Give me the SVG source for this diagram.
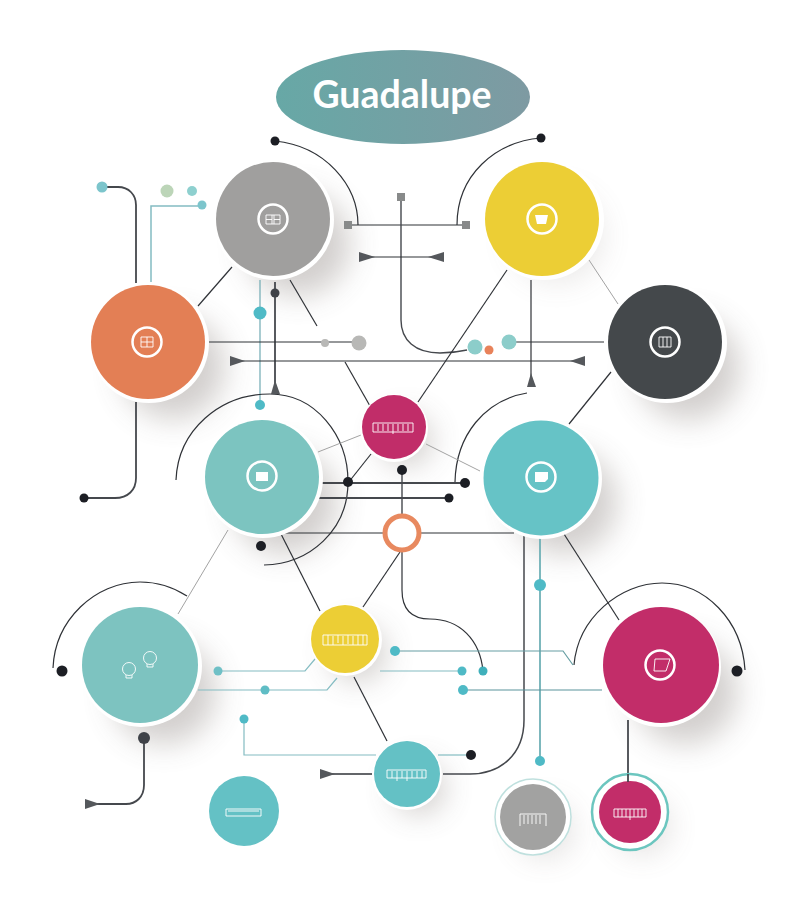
<svg xmlns="http://www.w3.org/2000/svg" width="800" height="900" viewBox="0 0 800 900">
<style>
.l{fill:none;stroke:#2f3237;stroke-width:1.2}
.m{fill:none;stroke:#45484d;stroke-width:1.8}
.f{fill:none;stroke:#a3a3a3;stroke-width:1}
.t{fill:none;stroke:#84bcc2;stroke-width:1.2}
.k{fill:#1c1e24}
.a{fill:#55585c}
.s{fill:#888a8a}
.c{fill:#4fbac6}
.n{fill:none;stroke:#fff;stroke-width:2.5}
.g{fill:none;stroke:#fff;stroke-width:1;opacity:.9}
.w{fill:#fff}
.sh{fill:#6b5f5a;opacity:.3;filter:url(#b)}
</style>
<defs>
<linearGradient id="tg" x1="0" x2="1" y1="0" y2="0"><stop offset="0" stop-color="#67a8a6"/><stop offset="1" stop-color="#7e9aa2"/></linearGradient>
<filter id="b" x="-60%" y="-60%" width="220%" height="220%"><feGaussianBlur stdDeviation="15"/></filter>
</defs>
<rect width="800" height="900" fill="#fff"/>

<g id="shadows">
<circle class="sh" cx="298" cy="244" r="52"/><circle class="sh" cx="173" cy="367" r="52"/><circle class="sh" cx="557" cy="236" r="46" style="opacity:.14"/><circle class="sh" cx="688" cy="368" r="52"/>
<circle class="sh" cx="285" cy="502" r="52"/><circle class="sh" cx="565" cy="502" r="52"/><circle class="sh" cx="406" cy="440" r="26"/>
<circle class="sh" cx="164" cy="692" r="52"/><circle class="sh" cx="358" cy="653" r="28"/><circle class="sh" cx="685" cy="692" r="52"/>
<circle class="sh" cx="419" cy="788" r="26"/><circle class="sh" cx="545" cy="830" r="28" style="opacity:.18"/><circle class="sh" cx="642" cy="826" r="28" style="opacity:.18"/>
</g>

<g id="connectors">
<path class="l" d="M275 141C325 146 358 185 358 225"/>
<path class="l" d="M541 138C495 142 457 175 457 225"/>
<path class="l" d="M348 225H466"/>
<path class="m" d="M401 197V320C401 340 415 353 440 353C450 353 458 352 467 350" style="stroke-width:1.4"/>
<path class="l" d="M365 257H437"/>
<path class="m" d="M102 187H118C129 187 136 195 136 205V283"/>
<path class="m" d="M136 402V478C136 490 128 498 115 498H84"/>
<path class="t" d="M151 282V206H201" style="stroke-width:1.5"/>
<path class="l" d="M232 267L198 306"/>
<path class="l" d="M290 280L317 326"/>
<path class="t" d="M260 280V405" style="stroke:#6fa9b2"/>
<path class="m" d="M275 282V385"/>
<path class="l" d="M209 342H352"/>
<path class="l" d="M240 361H575"/>
<path class="l" d="M345 362L370 406"/>
<path class="l" d="M507 270L418 402"/>
<path class="f" d="M589 260L618 304"/>
<path class="l" d="M531 280V380"/>
<path class="l" d="M516 342H604"/>
<path class="l" d="M611 372L569 424"/>
<path class="l" d="M527 393C485 400 456 435 455 482"/>
<path class="l" d="M176 480C178 430 220 394 270 394C315 394 348 435 348 482C348 530 310 564 264 565"/>
<path class="f" d="M318 452L361 435"/>
<path class="f" d="M426 444L480 471"/>
<path class="l" d="M371 454L348 483"/>
<path class="m" d="M322 483H465"/>
<path class="m" d="M319 498H449"/>
<path class="m" d="M402 470V517" style="stroke-width:1.4"/>
<path class="l" d="M285 533H386M418 533H514"/>
<path class="m" d="M524 536V720C524 755 500 774 470 774H443" style="stroke-width:1.5"/>
<path class="t" d="M540 536V761" style="stroke:#6fb0b6;stroke-width:1.8"/>
<path class="l" d="M281 534L320 611"/>
<path class="f" d="M228 530L178 614"/>
<path class="l" d="M400 552L363 607"/>
<path class="l" d="M402 550V590C402 610 412 619 430 619C460 619 480 640 483 671"/>
<path class="l" d="M564 534L619 620"/>
<path class="l" d="M53 668C55 620 95 582 140 582C158 582 173 587 187 596"/>
<path class="l" d="M574 665C578 618 620 583 662 583C705 583 742 620 745 670"/>
<path class="t" d="M218 671H305L315 659"/>
<path class="t" d="M198 690H327L337 678"/>
<path class="t" d="M380 671H462"/>
<path class="t" d="M395 651H563L573 665" style="stroke:#669ea3"/>
<path class="t" d="M463 690H602" style="stroke:#5b949b"/>
<path class="l" d="M354 677L387 741"/>
<path class="t" d="M244 719V755H376"/>
<path class="t" d="M438 755H470"/>
<path class="l" d="M327 774H372" style="stroke-width:1.6"/>
<path class="m" d="M144 738V785C144 797 136 804 126 804H95"/>
<path class="m" d="M628 720V782"/>
<circle class="k" cx="275" cy="141" r="4.500"/><circle class="k" cx="541" cy="138" r="4.500"/><circle class="k" cx="84" cy="498" r="4.500"/>
<rect class="s" x="344" y="221" width="8" height="8"/><rect class="s" x="462" y="221" width="8" height="8"/><rect class="s" x="397" y="193" width="8" height="8"/>
<path class="a" d="M359 252L375 257L359 262Z"/><path class="a" d="M444 252L428 257L444 262Z"/>
<path class="a" d="M230 356L245 361L230 366Z"/><path class="a" d="M585 356L570 361L585 366Z"/>
<path class="a" d="M271 394L275 380L280 394Z"/><path class="a" d="M527 387L531 373L536 387Z"/>
<path class="a" d="M85 799L100 804L85 809Z"/><path class="a" d="M320 769L335 774L320 779Z"/>
<circle fill="#7cc5cc" cx="102" cy="187" r="5.500"/><circle fill="#bcd5b8" cx="167" cy="191" r="6.500"/><circle fill="#8ed0cf" cx="192" cy="191" r="5"/><circle fill="#7cc5cc" cx="202" cy="205" r="4.500"/>
<circle class="c" cx="260" cy="313" r="6.500"/><circle class="c" cx="260" cy="405" r="5"/><circle fill="#3f4248" cx="275" cy="293" r="4.500"/>
<circle fill="#b8b8b6" cx="325" cy="343" r="4"/><circle fill="#b8b8b6" cx="359" cy="343" r="7.500"/>
<circle fill="#8ccdca" cx="475" cy="347" r="7.500"/><circle fill="#e8825a" cx="489" cy="350" r="4.500"/><circle fill="#8ccdca" cx="509" cy="342" r="7.500"/>
<circle class="k" cx="348" cy="482" r="5"/><circle class="k" cx="402" cy="470" r="5"/><circle class="k" cx="465" cy="483" r="5"/><circle class="k" cx="449" cy="498" r="4.500"/><circle class="k" cx="261" cy="546" r="5"/>
<circle class="c" cx="540" cy="585" r="6"/><circle class="c" cx="540" cy="761" r="5"/>
<circle class="k" cx="62" cy="671" r="5.500"/><circle class="k" cx="737" cy="671" r="5.500"/><circle fill="#3f4248" cx="144" cy="738" r="6"/>
<circle fill="#6fc0c6" cx="218" cy="671" r="4.500"/><circle fill="#5fbdc5" cx="265" cy="690" r="4.500"/><circle class="c" cx="244" cy="719" r="4.500"/>
<circle class="c" cx="395" cy="651" r="5"/><circle class="c" cx="462" cy="671" r="4.500"/><circle fill="#3fb0bb" cx="483" cy="671" r="4.500"/><circle class="c" cx="463" cy="690" r="5"/>
<circle class="k" cx="471" cy="755" r="5"/>
</g>

<g id="title"><ellipse cx="403" cy="97" rx="127" ry="47" fill="url(#tg)"/><text x="402" y="108" text-anchor="middle" font-family="Lato,'Open Sans',sans-serif" font-weight="700" font-size="37.500" fill="#fff">Guadalupe</text></g>

<g id="node-gray"><circle class="w" cx="274" cy="220" r="60"/><circle fill="#a09f9e" cx="273" cy="219" r="57"/><circle class="n" cx="273" cy="219" r="14.500"/><path class="g" d="M266 215H280V224H266ZM266 219.500H272M274 219.500H280M272 215V224M274 215V224"/></g>
<g id="node-orange"><circle class="w" cx="149" cy="343" r="60"/><circle fill="#e37f55" cx="148" cy="342" r="57"/><circle class="n" cx="147" cy="342" r="14.500"/><path class="g" d="M141 337H153V347H141ZM141 342H153M147 337V347"/></g>
<g id="node-yellow"><circle class="w" cx="544" cy="220" r="60"/><circle fill="#ecce35" cx="542" cy="219" r="57"/><circle class="n" cx="542" cy="219" r="14.500"/><path fill="#fff" d="M535 215H548L546 224H537Z"/></g>
<g id="node-dark"><circle class="w" cx="667" cy="343" r="60"/><circle fill="#44484b" cx="665" cy="342" r="57"/><circle class="n" cx="665" cy="342" r="14.500"/><path class="g" d="M659 337H671V347H659ZM663 337V347M667 337V347"/></g>
<g id="node-teal-left"><circle class="w" cx="263" cy="478" r="60"/><circle fill="#7cc4c0" cx="262" cy="477" r="57"/><circle class="n" cx="262" cy="476" r="14.500"/><path fill="#fff" d="M256 472H268V481H256Z"/></g>
<g id="node-teal-right"><circle class="w" cx="542" cy="479" r="60"/><circle fill="#66c3c6" cx="541" cy="478" r="57.500"/><circle class="n" cx="541" cy="477" r="14.500"/><path fill="#fff" d="M535 472H548V479L545 482H535Z"/></g>
<g id="node-magenta-mid"><circle class="w" cx="394" cy="428" r="34"/><circle fill="#c12d69" cx="394" cy="427" r="32"/><path class="g" d="M373 423H413M373 423V432H413V423M378 424V431M383 424V431M388 424V431M393 424V434M398 424V431M403 424V431M408 424V431"/></g>
<g id="node-ring"><circle cx="402" cy="533" r="17" fill="#fff" stroke="#e8895f" stroke-width="5"/></g>
<g id="node-teal-large"><circle class="w" cx="141" cy="666" r="61"/><circle fill="#7dc3c0" cx="140" cy="665" r="58"/><circle class="g" cx="129" cy="669" r="6.500"/><path class="g" d="M126 675V678H132V675"/><circle class="g" cx="150" cy="658" r="6.500"/><path class="g" d="M147 664V667H153V664"/></g>
<g id="node-yellow-small"><circle class="w" cx="346" cy="640" r="36"/><circle fill="#ecce35" cx="345" cy="639" r="34"/><path class="g" d="M323 635H367V645H323ZM328 635V645M333 636V645M338 635V643M343 636V645M348 635V644M353 636V645M358 635V645M363 635V645"/></g>
<g id="node-magenta-large"><circle class="w" cx="661" cy="667" r="60"/><circle fill="#c22d69" cx="661" cy="665" r="58"/><circle class="n" cx="660" cy="665" r="14.500"/><path class="g" d="M655 659H670L666 671H654Z"/></g>
<g id="node-teal-bottom"><circle fill="#64c1c5" cx="244" cy="811" r="35"/><path class="g" d="M226 809H261V816H226ZM228 811H259"/></g>
<g id="node-teal-medium"><circle class="w" cx="407" cy="775" r="35"/><circle fill="#64c1c5" cx="407" cy="774" r="33"/><path class="g" d="M387 770H426M387 770V778H426V770M392 771V778M397 771V781M402 771V778M407 771V781M412 771V778M417 771V778M422 771V778"/></g>
<g id="node-gray-small"><circle cx="533" cy="817" r="38" fill="#fff" stroke="#bfe0de" stroke-width="1.500"/><circle fill="#a2a2a1" cx="533" cy="817" r="33"/><path class="g" d="M520 814H546M520 814V826M524 815V824M528 815V824M532 815V824M536 815V824M540 815V824M546 814V826"/></g>
<g id="node-magenta-small"><circle cx="630" cy="812" r="38" fill="#fff" stroke="#6cc6bf" stroke-width="2.500"/><circle fill="#c22d69" cx="630" cy="812" r="31"/><path class="g" d="M614 809H646V817H614ZM618 809V817M622 809V817M626 809V817M630 809V820M634 809V817M638 809V817M642 809V817"/></g>
<g id="over"><path class="m" d="M628 774V782"/></g>
</svg>
